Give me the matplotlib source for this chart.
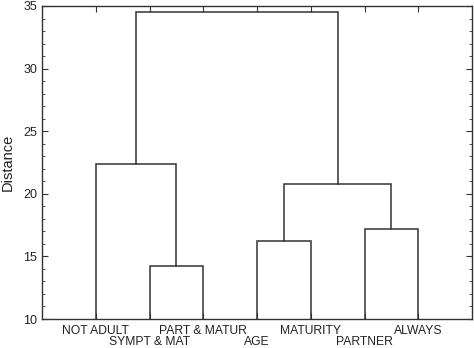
import numpy as np
import matplotlib.pyplot as plt
from matplotlib.ticker import MultipleLocator

plt.rcParams['font.family'] = ['Liberation Sans', 'DejaVu Sans']

# leaves in plotting order
leaves = ["NOT ADULT", "SYMPT & MAT", "PART & MATUR", "AGE", "MATURITY", "PARTNER", "ALWAYS"]
# merges: (left node, right node, height); nodes 0-6 are leaves, 7+ are merges
merge_left = [1, 3, 5, 8, 0, 11]
merge_right = [2, 4, 6, 9, 7, 10]
merge_height = [14.2, 16.2, 17.15, 20.8, 22.4, 34.5]
base = 10

fig = plt.figure(figsize=(4.74, 3.48), dpi=100)
ax = fig.add_axes([42 / 474, 1 - 319 / 348, 430 / 474, 313 / 348])

lc = '#333333'
node_x = {i: i + 1 for i in range(len(leaves))}
node_h = {i: base for i in range(len(leaves))}
for k, (l, r, h) in enumerate(zip(merge_left, merge_right, merge_height)):
    xl, xr = node_x[l], node_x[r]
    ax.plot([xl, xl, xr, xr], [node_h[l], h, h, node_h[r]], color=lc, lw=1.1,
            solid_joinstyle='miter')
    node_x[len(leaves) + k] = (xl + xr) / 2
    node_h[len(leaves) + k] = h

ax.set_xlim(0, 8)
ax.set_ylim(10, 35)
ax.set_xticks(range(1, len(leaves) + 1))
ax.set_xticklabels([])
# leaf labels staggered on two rows
trans = ax.get_xaxis_transform()
for i, lab in enumerate(leaves):
    yoff = -0.038 if i % 2 == 0 else -0.074
    ax.text(i + 1, yoff, lab, transform=trans, ha='center', va='center',
            fontsize=8.7, color='#222222')

ax.yaxis.set_major_locator(MultipleLocator(5))
ax.yaxis.set_minor_locator(MultipleLocator(1))
ax.tick_params(axis='both', which='both', direction='in', top=True, right=True,
               colors=lc, labelcolor='#222222')
ax.tick_params(axis='both', which='major', length=4, width=0.8, labelsize=9)
ax.tick_params(axis='y', which='minor', length=2, width=0.6)
for s in ax.spines.values():
    s.set_color(lc)
    s.set_linewidth(1.0)

ax.set_ylabel("Distance", fontsize=10.5, color='#222222', labelpad=6)

fig.savefig("out.png", dpi=100)
